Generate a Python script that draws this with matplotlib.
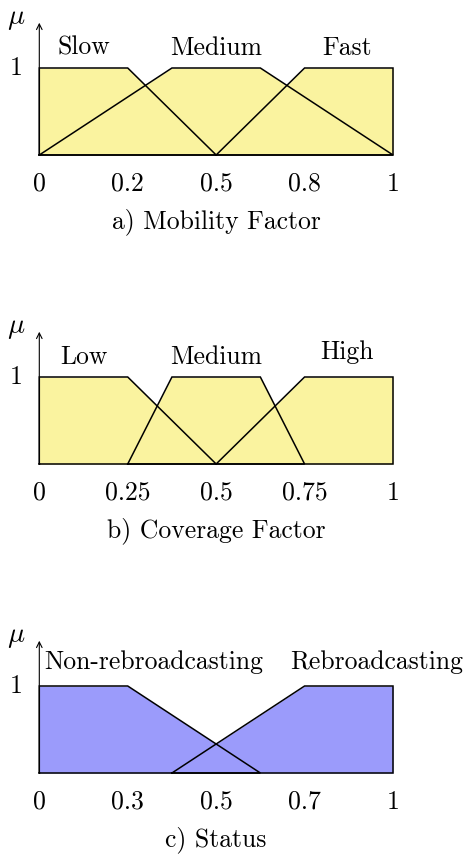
import numpy as np
import matplotlib
matplotlib.use("Agg")
import matplotlib.pyplot as plt

plt.rcParams['mathtext.fontset'] = 'cm'
plt.rcParams['font.family'] = ['cmr10', 'DejaVu Serif']

# membership breakpoints (x, mu) per panel
mob_names = ["Slow", "Medium", "Fast"]
mob_x = [[0, 0, 0.25, 0.5], [0, 0.375, 0.625, 1], [0.5, 0.75, 1, 1]]
mob_y = [[0, 1, 1, 0], [0, 1, 1, 0], [0, 1, 1, 0]]
mob_ticks = [0, 0.25, 0.5, 0.75, 1]
mob_ticklabels = ["0", "0.2", "0.5", "0.8", "1"]

cov_names = ["Low", "Medium", "High"]
cov_x = [[0, 0, 0.25, 0.5], [0.25, 0.375, 0.625, 0.75], [0.5, 0.75, 1, 1]]
cov_y = [[0, 1, 1, 0], [0, 1, 1, 0], [0, 1, 1, 0]]
cov_ticks = [0, 0.25, 0.5, 0.75, 1]
cov_ticklabels = ["0", "0.25", "0.5", "0.75", "1"]

st_names = ["Non-rebroadcasting", "Rebroadcasting"]
st_x = [[0, 0, 0.25, 0.625], [0.375, 0.75, 1, 1]]
st_y = [[0, 1, 1, 0], [0, 1, 1, 0]]
st_ticks = [0, 0.25, 0.5, 0.75, 1]
st_ticklabels = ["0", "0.3", "0.5", "0.7", "1"]

panels = [
    ("a) Mobility Factor", mob_names, mob_x, mob_y, mob_ticks, mob_ticklabels,
     "#faf39f", 155, [(0.125, 1.23), (0.5, 1.23), (0.87, 1.23)]),
    ("b) Coverage Factor", cov_names, cov_x, cov_y, cov_ticks, cov_ticklabels,
     "#faf39f", 464, [(0.125, 1.23), (0.5, 1.23), (0.87, 1.29)]),
    ("c) Status", st_names, st_x, st_y, st_ticks, st_ticklabels,
     "#9b9bfb", 773, [(0.324, 1.28), (0.955, 1.28)]),
]

W, H = 474, 864
fig = plt.figure(figsize=(W / 100, H / 100), dpi=100)
FS = 18.5
for caption, names, xs, ys, ticks, tlabels, color, base, lpos in panels:
    ax = fig.add_axes([39.3 / W, 1 - base / H, 353.7 / W, 87 / H])
    ax.set_xlim(0, 1)
    ax.set_ylim(0, 1)
    ax.axis('off')
    grid = np.linspace(0, 1, 2001)
    mu = np.max([np.interp(grid, np.array(x) + np.array([0, 1e-9, 2e-9, 3e-9]), y, left=0, right=0)
                 for x, y in zip(xs, ys)], axis=0)
    mu[0] = 1; mu[-1] = 1
    ax.fill_between(grid, 0, mu, color=color, lw=0, clip_on=False)
    for x, y in zip(xs, ys):
        ax.plot(list(x) + [x[0]], list(y) + [y[0]], color='black', lw=1.1,
                clip_on=False, solid_joinstyle='miter')
    ax.annotate("", xy=(0, 1.52), xytext=(0, 0),
                arrowprops=dict(arrowstyle='->', lw=0.8, color='black',
                                shrinkA=0, shrinkB=0), annotation_clip=False)
    ax.text(-0.065, 1.56, r"$\mu$", fontsize=FS + 2, ha='center', va='center')
    ax.text(-0.065, 1.0, "1", fontsize=FS, ha='center', va='center')
    for t, l in zip(ticks, tlabels):
        ax.text(t, -0.33, l, fontsize=FS, ha='center', va='center')
    ax.text(0.5, -0.77, caption, fontsize=FS, ha='center', va='center')
    for n, (px, py) in zip(names, lpos):
        ax.text(px, py, n, fontsize=FS, ha='center', va='center')

fig.savefig("out.png", dpi=100)
